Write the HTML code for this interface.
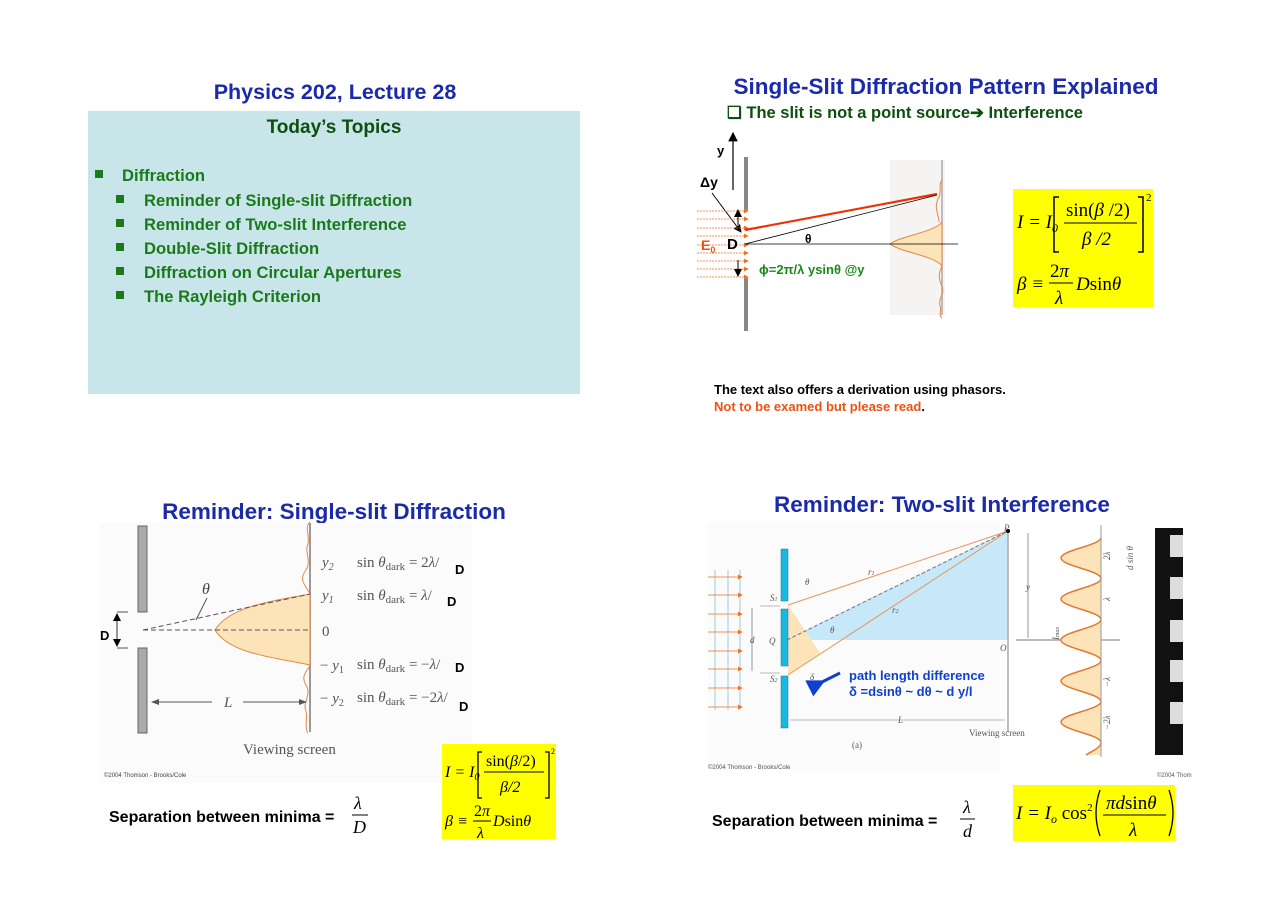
<!DOCTYPE html>
<html><head><meta charset="utf-8"><style>
body{margin:0;background:#fff;}
svg{display:block;font-family:"Liberation Sans",sans-serif;}
.b{font-weight:bold}
.s{font-family:"Liberation Serif",serif}
</style></head><body>
<svg width="1280" height="905" viewBox="0 0 1280 905" xmlns="http://www.w3.org/2000/svg">
<defs>
<marker id="ao" markerWidth="6" markerHeight="6" refX="5" refY="3" orient="auto"><path d="M0,0L6,3L0,6z" fill="#f07020"/></marker>
<marker id="ak" markerWidth="8" markerHeight="8" refX="7" refY="4" orient="auto"><path d="M0,0L8,4L0,8z" fill="#000"/></marker>
<marker id="ag" markerWidth="8" markerHeight="8" refX="7" refY="4" orient="auto"><path d="M0,1L8,4L0,7z" fill="#555"/></marker>
<marker id="ab" markerWidth="6" markerHeight="6" refX="4" refY="3" orient="auto"><path d="M0,0L6,3L0,6z" fill="#1040d0"/></marker>
</defs>

<!-- TOP LEFT -->
<text x="335" y="99" text-anchor="middle" class="b" font-size="21.5" fill="#1a2aa8">Physics 202, Lecture 28</text>
<rect x="88" y="111" width="492" height="283" fill="#c8e6ea"/>
<text x="334" y="133" text-anchor="middle" class="b" font-size="19" fill="#0e4e0e">Today’s Topics</text>
<g class="b" font-size="16.6" fill="#1a7a1a">
<rect x="95" y="170" width="8" height="8"/><text x="122" y="181">Diffraction</text>
<rect x="116" y="195" width="8" height="8"/><text x="144" y="206">Reminder of Single-slit Diffraction</text>
<rect x="116" y="219" width="8" height="8"/><text x="144" y="230">Reminder of Two-slit Interference</text>
<rect x="116" y="243" width="8" height="8"/><text x="144" y="254">Double-Slit Diffraction</text>
<rect x="116" y="267" width="8" height="8"/><text x="144" y="278">Diffraction on Circular Apertures</text>
<rect x="116" y="291" width="8" height="8"/><text x="144" y="302">The Rayleigh Criterion</text>
</g>

<!-- TOP RIGHT -->
<text x="946" y="94" text-anchor="middle" class="b" font-size="22.5" fill="#1a2aa8">Single-Slit Diffraction Pattern Explained</text>
<text x="727" y="118" class="b" font-size="16.5" fill="#0e4e0e">❑ The slit is not a point source➔ Interference</text>
<line x1="733" y1="190" x2="733" y2="133" stroke="#000" stroke-width="1.2" marker-end="url(#ak)"/>
<text x="717" y="155" class="b" font-size="13">y</text>
<text x="700" y="187" class="b" font-size="14">Δy</text>
<line x1="712" y1="193" x2="741" y2="232" stroke="#000" marker-end="url(#ak)"/>
<rect x="744" y="157" width="4" height="53" fill="#888"/>
<rect x="744" y="278" width="4" height="53" fill="#888"/>
<g stroke="#f07020" stroke-width="0.8" stroke-dasharray="2,1" marker-end="url(#ao)">
<line x1="697" y1="211" x2="748" y2="211"/><line x1="697" y1="219" x2="748" y2="219"/><line x1="697" y1="228" x2="748" y2="228"/><line x1="697" y1="236" x2="748" y2="236"/><line x1="697" y1="245" x2="748" y2="245"/><line x1="697" y1="253" x2="748" y2="253"/><line x1="697" y1="261" x2="748" y2="261"/><line x1="697" y1="269" x2="748" y2="269"/><line x1="697" y1="277" x2="748" y2="277"/>
</g>
<line x1="738" y1="225" x2="738" y2="210" stroke="#000" marker-end="url(#ak)"/>
<line x1="738" y1="260" x2="738" y2="276" stroke="#000" marker-end="url(#ak)"/>
<text x="701" y="250" class="b" font-size="14" fill="#f05010">E<tspan font-size="9" dy="3">0</tspan></text>
<text x="727" y="249" class="b" font-size="15">D</text>
<rect x="890" y="160" width="55" height="155" fill="#f6f4f2"/>
<line x1="942" y1="160" x2="942" y2="315" stroke="#aaa" stroke-width="1.5"/>
<path d="M942,222 C935,232 900,236 890,244 C900,252 935,256 942,266 Z" fill="#fde3b8" stroke="#e08a4a"/>
<path d="M942,180 c-4,5 0,10 -3,17 c-6,10 0,18 0,25 M942,266 c-2,5 -5,10 0,20 c3,8 -4,12 -2,20 c2,6 -2,8 2,12" fill="none" stroke="#e08a4a"/>
<line x1="745" y1="230" x2="937" y2="194" stroke="#f03000" stroke-width="2.2"/>
<line x1="745" y1="244" x2="937" y2="195" stroke="#000" stroke-width="0.8"/>
<line x1="745" y1="244" x2="958" y2="244" stroke="#000" stroke-width="0.8"/>
<text x="805" y="243" class="b" font-size="12">θ</text>
<text x="759" y="274" class="b" font-size="13" fill="#1a8a1a">ϕ=2π/λ ysinθ @y</text>
<rect x="1013" y="189" width="140" height="118" fill="#ffff00"/>
<g class="s" font-size="19" font-style="italic">
<text x="1017" y="228">I = I<tspan font-size="12" dy="4">0</tspan></text>
<text x="1066" y="216" font-style="normal">sin(<tspan font-style="italic">β</tspan> /2)</text>
<line x1="1064" y1="223" x2="1137" y2="223" stroke="#000"/>
<text x="1082" y="245"><tspan>β</tspan> /2</text>
<path d="M1059,197 h-5 v55 h5 M1138,197 h5 v55 h-5" fill="none" stroke="#000" stroke-width="1.5"/>
<text x="1146" y="201" font-size="11" font-style="normal">2</text>
<text x="1017" y="290">β ≡</text>
<text x="1050" y="277" font-style="normal">2<tspan font-style="italic">π</tspan></text>
<line x1="1049" y1="283" x2="1073" y2="283" stroke="#000"/>
<text x="1055" y="304">λ</text>
<text x="1076" y="290">D<tspan font-style="normal">sin</tspan>θ</text>
</g>
<text x="714" y="394" class="b" font-size="13">The text also offers a derivation using phasors.</text>
<text x="714" y="411" class="b" font-size="13" fill="#f05010">Not to be examed but please read<tspan fill="#000">.</tspan></text>

<!-- BOTTOM LEFT -->
<text x="334" y="519" text-anchor="middle" class="b" font-size="22.5" fill="#1a2aa8">Reminder: Single-slit Diffraction</text>
<rect x="100" y="523" width="372" height="260" fill="#fbfbfb"/>
<rect x="138" y="526" width="9" height="86" fill="#aaa" stroke="#666"/>
<rect x="138" y="648" width="9" height="85" fill="#aaa" stroke="#666"/>
<line x1="310" y1="523" x2="310" y2="732" stroke="#999" stroke-width="2"/>
<path d="M310,594 C280,600 230,605 215,630 C230,655 280,658 310,665 Z" fill="#fde3b8" stroke="#e08a4a"/>
<path d="M310,594 c-4,-8 -12,-14 -4,-24 c6,-10 -2,-18 2,-26 c2,-10 -4,-16 2,-22 M310,665 c-2,6 -10,10 -4,20 c6,10 -4,18 0,26 c2,8 -2,16 2,22" fill="none" stroke="#e08a4a"/>
<g stroke="#555" stroke-dasharray="5,3"><line x1="143" y1="630" x2="310" y2="630"/><line x1="143" y1="630" x2="310" y2="594"/></g>
<line x1="207" y1="598" x2="196" y2="620" stroke="#555"/>
<text x="202" y="594" class="s" font-style="italic" font-size="16" fill="#444">θ</text>
<line x1="117" y1="612" x2="128" y2="612" stroke="#555"/><line x1="117" y1="648" x2="128" y2="648" stroke="#555"/>
<line x1="117" y1="630" x2="117" y2="614" stroke="#333" marker-end="url(#ak)"/><line x1="117" y1="630" x2="117" y2="646" stroke="#333" marker-end="url(#ak)"/>
<text x="100" y="640" class="b" font-size="13">D</text>
<line x1="212" y1="702" x2="152" y2="702" stroke="#555" marker-end="url(#ag)"/>
<line x1="243" y1="702" x2="306" y2="702" stroke="#555" marker-end="url(#ag)"/>
<text x="224" y="707" class="s" font-style="italic" font-size="15" fill="#555">L</text>
<g class="s" font-size="15" fill="#555">
<text x="322" y="567" font-style="italic">y<tspan font-size="10" dy="3">2</tspan></text>
<text x="322" y="600" font-style="italic">y<tspan font-size="10" dy="3">1</tspan></text>
<text x="322" y="636">0</text>
<text x="320" y="670">− <tspan font-style="italic">y</tspan><tspan font-size="10" dy="3">1</tspan></text>
<text x="320" y="703">− <tspan font-style="italic">y</tspan><tspan font-size="10" dy="3">2</tspan></text>
<text x="357" y="567">sin <tspan font-style="italic">θ</tspan><tspan font-size="11" dy="3">dark</tspan><tspan dy="-3"> = 2</tspan><tspan font-style="italic">λ</tspan>/</text>
<text x="357" y="600">sin <tspan font-style="italic">θ</tspan><tspan font-size="11" dy="3">dark</tspan><tspan dy="-3"> = </tspan><tspan font-style="italic">λ</tspan>/</text>
<text x="357" y="669">sin <tspan font-style="italic">θ</tspan><tspan font-size="11" dy="3">dark</tspan><tspan dy="-3"> = −</tspan><tspan font-style="italic">λ</tspan>/</text>
<text x="357" y="702">sin <tspan font-style="italic">θ</tspan><tspan font-size="11" dy="3">dark</tspan><tspan dy="-3"> = −2</tspan><tspan font-style="italic">λ</tspan>/</text>
<text x="243" y="754" font-size="15">Viewing screen</text>
</g>
<g class="b" font-size="13"><text x="455" y="574">D</text><text x="447" y="606">D</text><text x="455" y="672">D</text><text x="459" y="711">D</text></g>
<text x="104" y="777" font-size="6" fill="#444">©2004 Thomson - Brooks/Cole</text>
<text x="109" y="822" class="b" font-size="16">Separation between minima =</text>
<g class="s" font-style="italic" font-size="18"><text x="354" y="809">λ</text><line x1="352" y1="815" x2="368" y2="815" stroke="#000"/><text x="353" y="833">D</text></g>
<rect x="442" y="744" width="114" height="95" fill="#ffff00"/>
<g class="s" font-size="16" font-style="italic">
<text x="445" y="777">I = I<tspan font-size="10" dy="3">0</tspan></text>
<text x="486" y="766" font-style="normal">sin(<tspan font-style="italic">β</tspan>/2)</text>
<line x1="484" y1="772" x2="544" y2="772" stroke="#000"/>
<text x="500" y="792">β/2</text>
<path d="M482,752 h-4 v46 h4 M545,752 h4 v46 h-4" fill="none" stroke="#000" stroke-width="1.3"/>
<text x="551" y="754" font-size="8" font-style="normal">2</text>
<text x="445" y="826">β ≡</text>
<text x="474" y="816" font-style="normal">2<tspan font-style="italic">π</tspan></text>
<line x1="473" y1="821" x2="491" y2="821" stroke="#000"/>
<text x="477" y="838">λ</text>
<text x="493" y="826">D<tspan font-style="normal">sin</tspan>θ</text>
</g>

<!-- BOTTOM RIGHT -->
<text x="942" y="512" text-anchor="middle" class="b" font-size="22.5" fill="#1a2aa8">Reminder: Two-slit Interference</text>
<rect x="708" y="522" width="292" height="248" fill="#fbfbfb"/>
<path d="M787,640 L1008,640 L1008,531 Z" fill="#c6e8f8"/>
<path d="M788,605 L788,675 L820,653 Z" fill="#fde3b8"/>
<g stroke="#9cd" stroke-width="1"><line x1="715" y1="570" x2="715" y2="710"/><line x1="728" y1="570" x2="728" y2="710"/><line x1="740" y1="570" x2="740" y2="710"/></g>
<g stroke="#f07020" stroke-width="0.8" marker-end="url(#ao)">
<line x1="708" y1="577" x2="742" y2="577"/><line x1="708" y1="595" x2="742" y2="595"/><line x1="708" y1="614" x2="742" y2="614"/><line x1="708" y1="632" x2="742" y2="632"/><line x1="708" y1="651" x2="742" y2="651"/><line x1="708" y1="669" x2="742" y2="669"/><line x1="708" y1="688" x2="742" y2="688"/><line x1="708" y1="707" x2="742" y2="707"/>
</g>
<rect x="781" y="549" width="7" height="52" fill="#1ab8e0" stroke="#0a80a0" stroke-width="0.5"/>
<rect x="781" y="609" width="7" height="57" fill="#1ab8e0" stroke="#0a80a0" stroke-width="0.5"/>
<rect x="781" y="676" width="7" height="52" fill="#1ab8e0" stroke="#0a80a0" stroke-width="0.5"/>
<line x1="788" y1="605" x2="1008" y2="531" stroke="#e8955a"/>
<line x1="788" y1="675" x2="1008" y2="531" stroke="#e8955a"/>
<line x1="787" y1="640" x2="1008" y2="531" stroke="#678" stroke-dasharray="4,2"/>
<line x1="1008" y1="531" x2="1008" y2="732" stroke="#aaa" stroke-width="1.5"/>
<circle cx="1008" cy="531" r="2" fill="#000"/>
<line x1="760" y1="606" x2="780" y2="606" stroke="#777" stroke-width="0.6"/><line x1="760" y1="673" x2="780" y2="673" stroke="#777" stroke-width="0.6"/>
<line x1="752" y1="608" x2="752" y2="671" stroke="#555" stroke-width="0.6"/>
<line x1="1028" y1="533" x2="1028" y2="638" stroke="#555" stroke-width="0.6"/>
<line x1="1016" y1="640" x2="1120" y2="640" stroke="#777"/>
<line x1="790" y1="720" x2="1005" y2="720" stroke="#777" stroke-width="0.6"/>
<g class="s" font-size="9" fill="#555" font-style="italic">
<text x="770" y="601">S<tspan font-size="6">1</tspan></text><text x="770" y="682">S<tspan font-size="6">2</tspan></text>
<text x="769" y="644">Q</text><text x="750" y="643">d</text><text x="805" y="585">θ</text><text x="830" y="633">θ</text>
<text x="810" y="680">δ</text><text x="868" y="575">r<tspan font-size="6">1</tspan></text><text x="892" y="613">r<tspan font-size="6">2</tspan></text>
<text x="1000" y="651">O</text><text x="1004" y="531">P</text><text x="1026" y="590">y</text><text x="898" y="723">L</text>
<text x="969" y="736" font-style="normal">Viewing screen</text><text x="852" y="748" font-style="normal">(a)</text>
</g>
<path d="M1101,530 L1101,537.5 C1101,545.5 1061,550 1061,558 C1061,566 1101,570.5 1101,578.5 C1101,586.5 1061,591 1061,599 C1061,607 1101,611.5 1101,619.5 C1101,627.5 1061,632 1061,640 C1061,648 1101,652.5 1101,660.5 C1101,668.5 1061,673 1061,681 C1061,689 1101,693.5 1101,701.5 C1101,709.5 1061,714 1061,722 C1061,730 1101,734.5 1101,742.5 C1101,748 1090,752 1086,755 L1101,755 Z" fill="#fde3b8"/>
<path d="M1101,537.5 C1101,545.5 1061,550 1061,558 C1061,566 1101,570.5 1101,578.5 C1101,586.5 1061,591 1061,599 C1061,607 1101,611.5 1101,619.5 C1101,627.5 1061,632 1061,640 C1061,648 1101,652.5 1101,660.5 C1101,668.5 1061,673 1061,681 C1061,689 1101,693.5 1101,701.5 C1101,709.5 1061,714 1061,722 C1061,730 1101,734.5 1101,742.5 C1101,748 1090,752 1086,755" fill="none" stroke="#e07a30" stroke-width="1.5"/>
<line x1="1101" y1="525" x2="1101" y2="757" stroke="#999"/>
<g class="s" font-size="9" fill="#555" font-style="italic">
<text transform="translate(1110,560) rotate(-90)">2λ</text>
<text transform="translate(1110,601) rotate(-90)">λ</text>
<text transform="translate(1110,687) rotate(-90)">−λ</text>
<text transform="translate(1110,730) rotate(-90)">−2λ</text>
<text transform="translate(1059,640) rotate(-90)">I<tspan font-size="6">max</tspan></text>
<text transform="translate(1133,570) rotate(-90)">d sin θ</text>
</g>
<rect x="1155" y="528" width="28" height="227" fill="#111"/>
<g fill="#ddd"><rect x="1170" y="535" width="13" height="22"/><rect x="1170" y="577" width="13" height="22"/><rect x="1170" y="620" width="13" height="22"/><rect x="1170" y="660" width="13" height="22"/><rect x="1170" y="702" width="13" height="22"/></g>
<g font-size="8" fill="#555"><text x="708" y="769" font-size="6">©2004 Thomson - Brooks/Cole</text><text x="1157" y="777" font-size="6">©2004 Thom</text></g>
<line x1="820" y1="683" x2="840" y2="673" stroke="#1040d0" stroke-width="3" marker-start="url(#ab)"/>
<text x="849" y="680" class="b" font-size="13" fill="#1040d0">path length difference</text>
<text x="849" y="696" class="b" font-size="13" fill="#1040d0">δ =dsinθ ~ dθ ~ d y/l</text>
<text x="712" y="826" class="b" font-size="16">Separation between minima =</text>
<g class="s" font-style="italic" font-size="18"><text x="963" y="813">λ</text><line x1="960" y1="819" x2="975" y2="819" stroke="#000"/><text x="963" y="837">d</text></g>
<rect x="1013" y="785" width="162" height="56" fill="#ffff00"/>
<g class="s" font-size="19" font-style="italic">
<text x="1016" y="819">I = I<tspan font-size="12" dy="4">o</tspan><tspan dy="-4" font-style="normal"> cos</tspan><tspan font-size="11" dy="-8" font-style="normal">2</tspan></text>
<text x="1106" y="809">πd<tspan font-style="normal">sin</tspan>θ</text>
<line x1="1103" y1="815" x2="1166" y2="815" stroke="#000"/>
<text x="1129" y="836">λ</text>
<path d="M1100,790 q-8,23 0,46 M1169,790 q8,23 0,46" fill="none" stroke="#000" stroke-width="1.3"/>
</g>
</svg>
</body></html>
